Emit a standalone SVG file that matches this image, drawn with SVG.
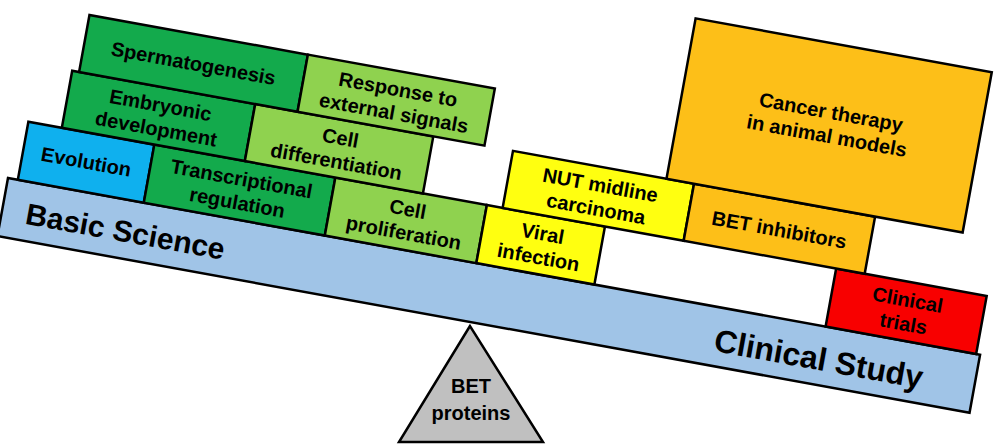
<svg xmlns="http://www.w3.org/2000/svg" width="1000" height="448" viewBox="0 0 1000 448">
<style>
rect{stroke:#000;stroke-width:2.5}
text{font-family:"Liberation Sans",Arial,sans-serif;font-weight:bold;font-size:20px;text-anchor:middle;fill:#000}
.blue{fill:#0fb0ee}.dg{fill:#13aa4c}.lg{fill:#8fd24f}.yl{fill:#ffff10}.or{fill:#fdbf18}.rd{fill:#f80000}.beam{fill:#a0c4e7}
</style>
<rect width="1000" height="448" fill="#fff" style="stroke:none"/>
<g id="fulcrum">
<polygon points="470,326 399,442 543,442" fill="#c0c0c0" stroke="#000" stroke-width="2.5"/>
<text x="471" y="393" font-size="22">BET</text>
<text x="471" y="420" font-size="22">proteins</text>
</g>
<g transform="translate(8,178) rotate(10.3)">
<g id="beam"><rect class="beam" x="0" y="0" width="988" height="59"/>
<text x="125" y="42" style="font-size:30px">Basic Science</text>
<text x="830" y="44" style="font-size:32px">Clinical Study</text></g>
<g id="evolution"><rect class="blue" x="10" y="-59" width="128" height="59"/><text x="74" y="-23">Evolution</text></g>
<g id="transcriptional"><rect class="dg" x="138" y="-59" width="184" height="59"/><text x="230" y="-34">Transcriptional</text><text x="230" y="-10">regulation</text></g>
<g id="proliferation"><rect class="lg" x="322" y="-59" width="154" height="59"/><text x="399" y="-34">Cell</text><text x="399" y="-10">proliferation</text></g>
<g id="viral"><rect class="yl" x="476" y="-59" width="120" height="59"/><text x="536" y="-34">Viral</text><text x="536" y="-10">infection</text></g>
<g id="embryonic"><rect class="dg" x="44" y="-117" width="186" height="58"/><text x="137" y="-92">Embryonic</text><text x="137" y="-68">development</text></g>
<g id="differentiation"><rect class="lg" x="230" y="-117" width="181" height="58"/><text x="320" y="-92">Cell</text><text x="320" y="-68">differentiation</text></g>
<g id="spermatogenesis"><rect class="dg" x="51" y="-175" width="222" height="58"/><text x="162" y="-139">Spermatogenesis</text></g>
<g id="response"><rect class="lg" x="273" y="-175" width="190" height="58"/><text x="368" y="-150">Response to</text><text x="368" y="-126">external signals</text></g>
<g id="nut"><rect class="yl" x="492" y="-117" width="184" height="58"/><text x="584" y="-92">NUT midline</text><text x="584" y="-68">carcinoma</text></g>
<g id="clinical-trials"><rect class="rd" x="831" y="-59" width="153" height="59"/><text x="907" y="-34">Clinical</text><text x="907" y="-10">trials</text></g>
<g id="bet-inhibitors"><rect class="or" x="676" y="-117" width="184" height="58"/><text x="768" y="-80">BET inhibitors</text></g>
<g id="cancer"><rect class="or" x="648" y="-280" width="301" height="163"/><text x="798" y="-205">Cancer therapy</text><text x="798" y="-181">in animal models</text></g>
</g>
</svg>
